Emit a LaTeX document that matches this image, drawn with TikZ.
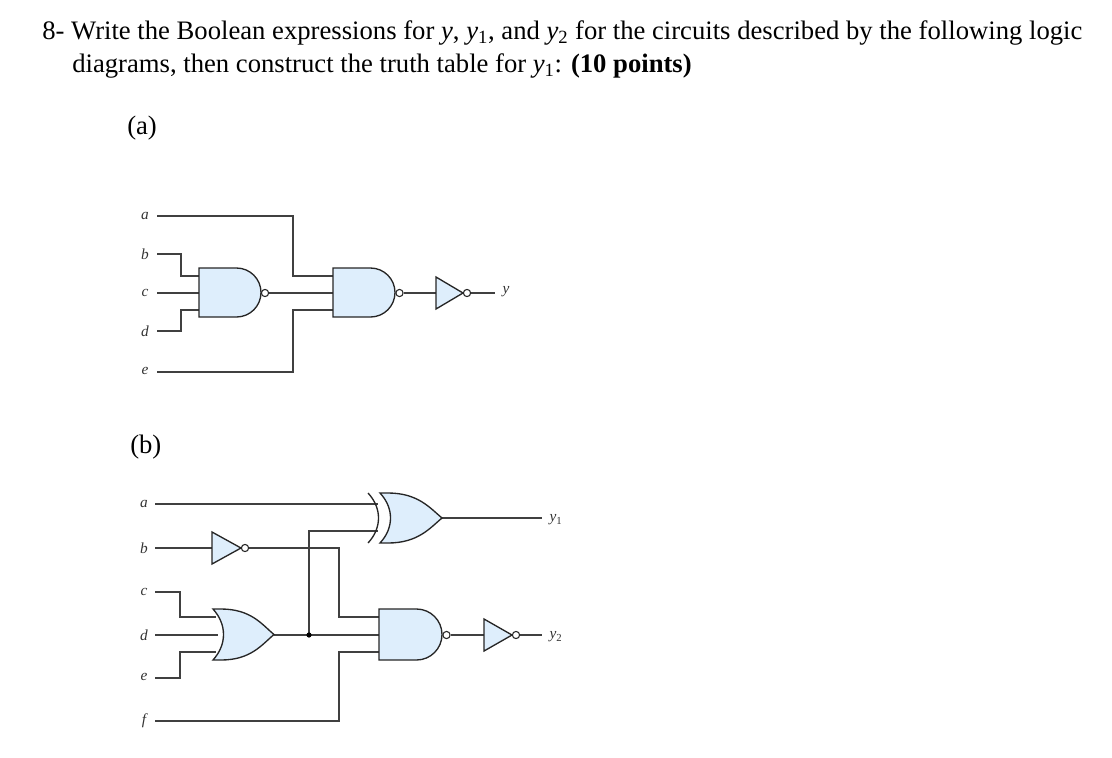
\documentclass[tikz,border=0pt]{standalone}
\usepackage{fontspec}
\setmainfont{Liberation Serif}
\definecolor{gfill}{RGB}{222,238,252}
\begin{document}
\begin{tikzpicture}[x=0.75pt,y=-0.75pt,
  wire/.style={line width=0.8pt,draw=black!75},
  gate/.style={line width=1pt,draw=black!85,fill=gfill},
  bub/.style={line width=0.8pt,draw=black!85,fill=white},
  lbl/.style={font=\itshape\fontsize{11.5}{12}\selectfont,text=black!80},
  hdr/.style={font=\fontsize{20}{22}\selectfont,anchor=west,inner sep=0}]
\useasboundingbox (0,0) rectangle (1112,757);
\newcommand\andgate[4]{% left, top, bottom, right
  \pgfmathsetmacro\rr{(#3-#2)/2}\pgfmathsetmacro\xm{#4-\rr}\pgfmathsetmacro\cy{(#2+#3)/2}
  \draw[gate] (#1,#2) -- (\xm,#2) .. controls (\xm+0.552*\rr,#2) and (#4,\cy-0.552*\rr) .. (#4,\cy)
    .. controls (#4,\cy+0.552*\rr) and (\xm+0.552*\rr,#3) .. (\xm,#3) -- (#1,#3) -- cycle;}
\newcommand\orgate[4]{%
  \pgfmathsetmacro\cy{(#2+#3)/2}
  \draw[gate] (#1,#2) -- (#1+8,#2) .. controls (#1+38,#2) and (#4-12,\cy-10) .. (#4,\cy)
    .. controls (#4-12,\cy+10) and (#1+38,#3) .. (#1+8,#3) -- (#1,#3)
    .. controls (#1+14,\cy+10) and (#1+14,\cy-10) .. (#1,#2) -- cycle;}
\newcommand\notgate[4]{% left, top, bottom, tip
  \pgfmathsetmacro\cy{(#2+#3)/2}
  \draw[gate] (#1,#2) -- (#4,\cy) -- (#1,#3) -- cycle;}
% header
\node[hdr] (h1) at (42,33) {8- Write the Boolean expressions for \textit{y}, \textit{y}\textsubscript{1}, and \textit{y}\textsubscript{2} for the circuits described by the following logic};
\node[hdr] (h2) at (72,66) {diagrams, then construct the truth table for \textit{y}\textsubscript{1}: \textbf{(10 points)}};
\node[hdr] (ta) at (127,128) {(a)};
\node[hdr] (tb) at (130,447) {(b)};
% ---------- (a)
\node[lbl] (la) at (145,216) {a};
\node[lbl] (lb) at (145,254) {b};
\node[lbl] (lc) at (145,293) {c};
\node[lbl] (ld) at (145,331) {d};
\node[lbl] (le) at (145,371) {e};
\draw[wire] (157,216) -- (293,216) -- (293,276) -- (333,276);
\draw[wire] (157,254) -- (181,254) -- (181,276) -- (199,276);
\draw[wire] (157,293) -- (199,293);
\draw[wire] (157,331) -- (181,331) -- (181,310) -- (199,310);
\draw[wire] (157,372) -- (293,372) -- (293,310) -- (333,310);
\draw[wire] (269,293) -- (333,293);
\draw[wire] (404,293) -- (436,293);
\draw[wire] (471,293) -- (495,293);
\andgate{199}{268}{317}{261}
\andgate{333}{268}{317}{395}
\notgate{436}{277}{309}{463}
\draw[bub] (265,293) circle (3.6);
\draw[bub] (399.5,293) circle (3.6);
\draw[bub] (467,293) circle (3.6);
\node[lbl] (ly) at (506,292) {y};
% ---------- (b)
\node[lbl] (ba) at (144,504) {a};
\node[lbl] (bb) at (144,548) {b};
\node[lbl] (bc) at (144,592) {c};
\node[lbl] (bd) at (144,635) {d};
\node[lbl] (be) at (144,677) {e};
\node[lbl] (bf) at (144,721) {f};
\draw[wire] (155,504) -- (378,504);
\draw[wire] (155,548) -- (212,548);
\draw[wire] (249,548) -- (339,548) -- (339,617) -- (379,617);
\draw[wire] (155,592) -- (180,592) -- (180,617) -- (216,617);
\draw[wire] (155,635) -- (218,635);
\draw[wire] (155,678) -- (180,678) -- (180,652) -- (216,652);
\draw[wire] (274,635) -- (379,635);
\draw[wire] (309,635) -- (309,531) -- (378,531);
\draw[wire] (155,721) -- (339,721) -- (339,652) -- (379,652);
\draw[wire] (442,518) -- (542,518);
\draw[wire] (451,635) -- (484,635);
\draw[wire] (520,635) -- (542,635);
\fill (309,635) circle (2.6);
\draw[line width=1pt,draw=black!85] (368,493) .. controls (382,508) and (382,528) .. (368,543);
\orgate{380}{493}{543}{442}
\notgate{212}{532}{564}{241}
\draw[bub] (245,548) circle (3.6);
\orgate{213}{609}{660}{274}
\andgate{379}{609}{660}{442}
\draw[bub] (446.5,635) circle (3.6);
\notgate{484}{619}{651}{512}
\draw[bub] (516,635) circle (3.6);
\node[lbl] (ly1) at (556,520) {y\textsubscript{\upshape 1}};
\node[lbl] (ly2) at (556,637) {y\textsubscript{\upshape 2}};
\end{tikzpicture}
\end{document}
